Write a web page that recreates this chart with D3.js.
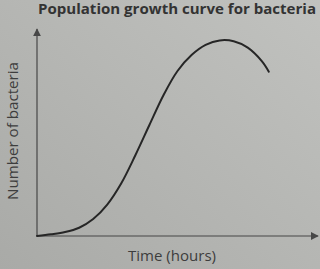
<!DOCTYPE html>
<html>
<head>
<meta charset="utf-8">
<script src="https://cdn.jsdelivr.net/npm/d3@7"></script>
<style>
  html, body { margin: 0; padding: 0; background: #b3b4b1; }
  svg { display: block; }
</style>
</head>
<body>
<div id="chart"></div>
<script>
// values (time in hours, bacteria as % of the peak axis)
var times  = [0, 0.5, 1, 1.5, 2, 2.5, 3, 3.5, 4, 4.5, 5, 5.5, 6, 6.5, 7, 7.5, 8, 8.25];
var counts = [0, 0.8, 1.9, 4, 8.2, 15.2, 25.5, 39, 53.6, 68, 79.7, 87.4, 92.3, 94.5, 94.1, 91, 84.5, 79.4];

var title = "Population growth curve for bacteria";
var xLabel = "Time (hours)";
var yLabel = "Number of bacteria";

var width = 320,
  height = 269;

var svg = d3
  .select("#chart")
  .append("svg")
  .attr("width", width)
  .attr("height", height);

// photo-like paper background, a bit lighter top right
var grad = svg.append("defs").append("linearGradient")
  .attr("id", "paper")
  .attr("x1", "0%").attr("y1", "100%")
  .attr("x2", "100%").attr("y2", "0%");
grad.append("stop").attr("offset", "0%").attr("stop-color", "#a9aaa7");
grad.append("stop").attr("offset", "100%").attr("stop-color", "#c1c2bf");

svg.append("rect")
  .attr("width", width)
  .attr("height", height)
  .attr("fill", "url(#paper)");

var x = d3.scaleLinear().domain([0, 10]).range([37, 318]);
var y = d3.scaleLinear().domain([0, 100]).range([236, 29]);

var axisColor = "#474747";

// arrow heads
var defs = svg.select("defs");
defs.append("marker")
  .attr("id", "arrow")
  .attr("viewBox", "0 0 10 10")
  .attr("refX", 9)
  .attr("refY", 5)
  .attr("markerWidth", 8)
  .attr("markerHeight", 8)
  .attr("markerUnits", "userSpaceOnUse")
  .attr("orient", "auto")
  .append("path")
  .attr("d", "M0,0 L10,5 L0,10 z")
  .attr("fill", axisColor);

// y axis
svg.append("line")
  .attr("x1", x(0)).attr("y1", y(0))
  .attr("x2", x(0)).attr("y2", y(100))
  .attr("stroke", axisColor)
  .attr("stroke-width", 1.2)
  .attr("marker-end", "url(#arrow)");

// x axis
svg.append("line")
  .attr("x1", x(0)).attr("y1", y(0))
  .attr("x2", x(10)).attr("y2", y(0))
  .attr("stroke", axisColor)
  .attr("stroke-width", 1.2)
  .attr("marker-end", "url(#arrow)");

// growth curve
var line = d3.line()
  .x(function(d, i) { return x(times[i]); })
  .y(function(d) { return y(d); })
  .curve(d3.curveCatmullRom.alpha(0.5));

svg.append("path")
  .datum(counts)
  .attr("fill", "none")
  .attr("stroke", "#262626")
  .attr("stroke-width", 2)
  .attr("stroke-linecap", "round")
  .attr("d", line);

// title
svg.append("text")
  .attr("x", 177)
  .attr("y", 14)
  .attr("text-anchor", "middle")
  .attr("font-family", "Open Sans, sans-serif")
  .attr("font-size", "13.5px")
  .attr("font-weight", "bold")
  .attr("fill", "#333")
  .attr("textLength", 278)
  .attr("lengthAdjust", "spacingAndGlyphs")
  .text(title);

// x label
svg.append("text")
  .attr("x", 172)
  .attr("y", 261)
  .attr("text-anchor", "middle")
  .attr("font-family", "Open Sans, sans-serif")
  .attr("font-size", "14px")
  .attr("fill", "#3d3d3d")
  .attr("textLength", 88)
  .attr("lengthAdjust", "spacingAndGlyphs")
  .text(xLabel);

// y label
svg.append("text")
  .attr("transform", "translate(18,131) rotate(-90)")
  .attr("text-anchor", "middle")
  .attr("font-family", "Open Sans, sans-serif")
  .attr("font-size", "14px")
  .attr("fill", "#3d3d3d")
  .attr("textLength", 138)
  .attr("lengthAdjust", "spacingAndGlyphs")
  .text(yLabel);
</script>
</body>
</html>
